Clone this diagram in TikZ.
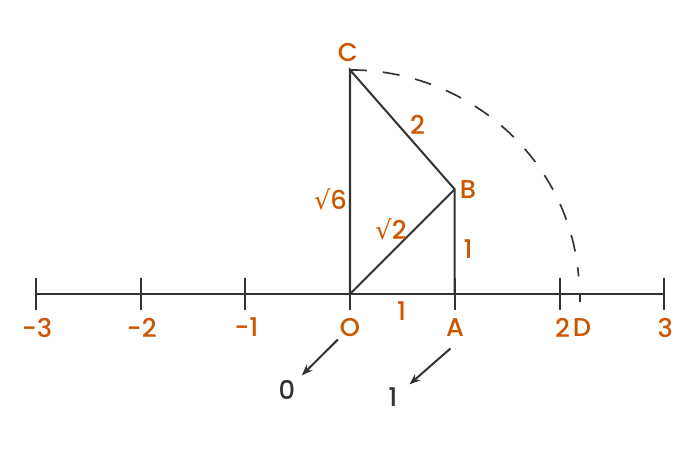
\documentclass[tikz,border=0pt]{standalone}
\usepackage{fontspec}
\setmainfont{Poppins}[UprightFont=* Medium]
\newfontfamily\symfont{DejaVu Sans}
\usetikzlibrary{arrows.meta}
\definecolor{burnt}{RGB}{204,85,0}
\definecolor{ink}{RGB}{51,51,51}

\begin{document}
\begin{tikzpicture}[x=2cm, y=2cm, line width=1.1pt, draw=ink,
    lbl/.style={text=burnt, font=\fontsize{14}{16}\selectfont, inner sep=3pt},
    val/.style={text=ink, font=\fontsize{14}{16}\selectfont, inner sep=3pt},
    arr/.style={-{Stealth[length=6pt, width=4.5pt]}}]
  \useasboundingbox (-3.343,-1.4995) rectangle (3.295,2.808);
  \coordinate (O) at (0,0);
  \coordinate (A) at (1,0);
  \coordinate (B) at (1,1);
  \coordinate (C) at (0,2.14);
  \coordinate (D) at (2.197,0);
  \draw (-3,0) -- (3,0);
  \foreach \x/\t in {-3/-3, -2/-2, -1/-1, 3/3} {
      \draw (\x,0.15) -- (\x,-0.15);
      \node[lbl] at (\x+0.01,-0.32) {\t};
  }
  \draw (0,0.15) -- (0,-0.15);
  \draw (1,0.15) -- (1,-0.15);
  \draw (2.006,0.15) -- (2.006,-0.15);
  \draw (D) -- ++(0,-0.075);
  \node[lbl] (n2) at (2.03,-0.32) {2};
  \node[lbl] (lD) at (2.216,-0.32) {D};
  \draw (O) -- (C) -- (B) -- (A);
  \draw (O) -- (B);
  \draw[dashed, dash pattern=on 9.2pt off 8.7pt, line width=0.9pt] (C) arc[start angle=90, end angle=4.5, x radius=2.19, y radius=2.14];
  \node[lbl] (lC) at (-0.02,2.311) {C};
  \node[lbl] (lB) at (1.127,0.993) {B};
  \node[lbl, inner sep=1pt] (lO) at (0,-0.32) {O};
  \node[lbl] (lA) at (1.003,-0.32) {A};
  \node[lbl] (lCB) at (0.645,1.619) {2};
  \node[lbl] (lOC) at (-0.186,0.907) {{\symfont √}6};
  \node[lbl] (lOB) at (0.392,0.621) {{\symfont √}2};
  \node[lbl] (lAB) at (1.127,0.425) {1};
  \node[lbl] (lOA) at (0.494,-0.16) {1};
  \node[val] (v0) at (-0.602,-0.917) {0};
  \node[val] (v1) at (0.41,-0.989) {1};
  \draw[arr] (lO) -- (v0);
  \draw[arr] ([xshift=-2.5pt,yshift=-3pt]lA.south) -- ([xshift=3pt,yshift=-1.5pt]v1.north east);
\end{tikzpicture}
\end{document}
